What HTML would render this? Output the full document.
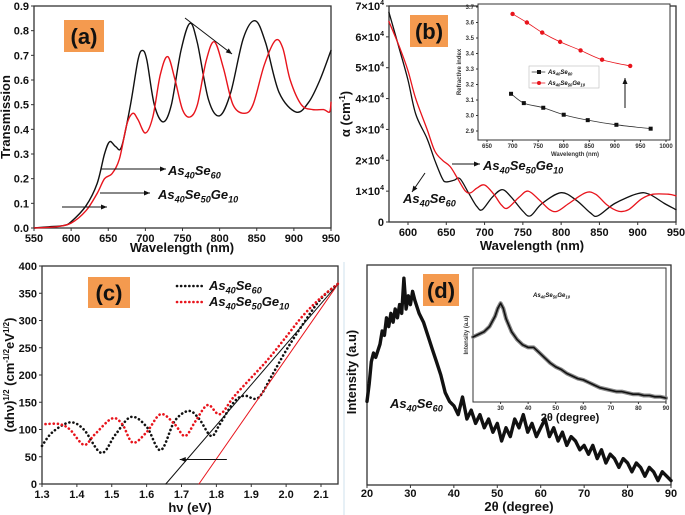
<!DOCTYPE html>
<html><head><meta charset="utf-8"><style>
html,body{margin:0;padding:0;background:#fff}
svg{display:block;font-family:"Liberation Sans",Arial,sans-serif}
.t{font-size:11px;font-weight:bold;fill:#111}
.ti{font-size:13px;font-weight:bold;fill:#111}
.lab{font-size:22px;font-weight:bold;fill:#111}
.sm{font-size:6px;font-weight:bold;fill:#333}
.bi{font-weight:bold;font-style:italic;fill:#111}
</style></head><body>
<svg id="s" width="685" height="515" viewBox="0 0 685 515" xmlns="http://www.w3.org/2000/svg">
<line x1="344" y1="262" x2="344" y2="515" stroke="#cfe0ee" stroke-width="1"/>
</svg>
<script>
// ---- data ----
const aBlackX=[550,570,590,600,620,635,645,652,660,668,680,690,696,702,712,724,735,748,760,770,785,800,815,832,848,862,880,903,920,935,950];
const aBlackY=[0,0.005,0.01,0.025,0.09,0.18,0.3,0.35,0.33,0.33,0.5,0.68,0.72,0.68,0.5,0.43,0.5,0.72,0.83,0.75,0.52,0.455,0.55,0.77,0.84,0.75,0.55,0.47,0.51,0.6,0.72];
const aRedX=[550,580,600,620,635,645,655,665,675,683,690,700,710,720,730,740,750,760,770,782,793,805,818,833,845,860,875,885,895,910,925,940,948,950];
const aRedY=[0,0.005,0.02,0.07,0.14,0.2,0.22,0.28,0.42,0.465,0.44,0.385,0.45,0.62,0.695,0.6,0.48,0.45,0.5,0.68,0.755,0.65,0.5,0.465,0.5,0.66,0.76,0.73,0.6,0.5,0.48,0.48,0.47,0.51];
const aXTicks=[550,600,650,700,750,800,850,900,950];
const aYTicks=[0,0.1,0.2,0.3,0.4,0.5,0.6,0.7,0.8,0.9];

const bBlackX=[575,590,600,610,625,635,645,650,660,668,680,690,697,710,723,735,750,760,775,800,820,838,848,870,900,915,935,950];
const bBlackY=[6.8,5.5,4.6,3.5,2.7,2.0,1.4,1.3,1.35,1.4,0.9,0.5,0.4,0.8,1.05,0.8,0.35,0.2,0.6,0.95,0.7,0.3,0.2,0.6,0.92,0.9,0.6,0.4];
const bRedX=[575,590,600,610,625,635,645,655,665,675,682,690,700,712,722,730,745,757,772,785,795,810,832,845,860,875,888,905,920,940,950];
const bRedY=[6.5,5.6,4.9,4.0,3.0,2.3,2.0,1.8,1.4,1.0,0.95,1.1,1.2,0.9,0.55,0.45,0.8,1.0,0.7,0.4,0.35,0.6,0.95,0.9,0.55,0.35,0.4,0.75,0.9,0.9,0.85];
const bXTicks=[600,650,700,750,800,850,900,950];
const bYTicks=[0,1,2,3,4,5,6,7];
const insBlackX=[697,722,760,800,847,903,970];
const insBlackY=[3.14,3.08,3.05,3.005,2.97,2.94,2.915];
const insRedX=[700,728,758,793,833,875,930];
const insRedY=[3.655,3.6,3.535,3.475,3.42,3.36,3.32];
const insXTicks=[650,700,750,800,850,900,950,1000];
const insYTicks=[2.9,3.0,3.1,3.2,3.3,3.4,3.5,3.6,3.7];

const cBlackX=[1.3,1.33,1.38,1.42,1.47,1.51,1.555,1.6,1.64,1.68,1.72,1.75,1.785,1.81,1.85,1.88,1.92,1.96,2.0,2.05,2.1,2.15];
const cBlackY=[70,95,113,100,57,90,123,105,62,115,134,120,88,110,150,162,158,200,245,295,340,368];
const cRedX=[1.31,1.35,1.38,1.42,1.45,1.5,1.53,1.56,1.6,1.64,1.68,1.71,1.74,1.775,1.81,1.85,1.9,1.95,2.0,2.05,2.1,2.15];
const cRedY=[110,110,100,72,90,120,110,76,95,128,110,88,115,145,128,160,195,230,270,310,342,368];
const cFitBlack=[1.655,0,2.15,368];
const cFitRed=[1.75,0,2.15,368];
const cXTicks=[1.3,1.4,1.5,1.6,1.7,1.8,1.9,2.0,2.1];
const cYTicks=[0,50,100,150,200,250,300,350,400];

const dX=[20,20.5,21,21.5,22,23,23.5,24,24.5,25,25.5,26,26.5,27,27.5,28,28.5,29,29.5,30,30.5,31,32,33,34,35,36,37,38,39,40,41,42,43,44,45,46,47,48,49,50,51,52,53,54,55,56,57,58,59,60,61,62,63,64,65,66,67,68,69,70,71,72,73,74,75,76,77,78,79,80,81,82,83,84,85,86,87,88,89,90];
const dY=[38,46,56,60,58,64,70,68,76,72,78,74,80,76,82,78,94,80,86,82,88,84,78,74,68,62,56,50,42,38,36,32,40,30,34,28,32,26,30,24,28,20,26,22,30,26,32,24,28,22,26,30,22,26,20,24,18,22,20,16,18,14,18,12,16,10,14,12,8,12,10,6,10,8,4,8,6,2,6,4,2];
const dXTicks=[20,30,40,50,60,70,80,90];
const dInsX=[20,22,24,26,28,29,30,31,32,34,36,38,40,42,44,46,48,50,52,54,56,58,60,62,64,66,68,70,72,74,76,78,80,82,84,86,88,90];
const dInsY=[50,52,54,58,66,72,76,72,64,54,48,44,42,42,38,34,30,27,25,22,20,18,17,15,13,11,10,9,8,8,7,6,6,5,5,4,4,3];
const dInsXTicks=[30,40,50,60,70,80,90];

// ---- helpers ----
const s=document.getElementById('s');
const NS='http://www.w3.org/2000/svg';
function mk(tag,attrs,parent){const e=document.createElementNS(NS,tag);for(const k in attrs)e.setAttribute(k,attrs[k]);(parent||s).appendChild(e);return e;}
function lin(d0,d1,r0,r1){return v=>r0+(v-d0)/(d1-d0)*(r1-r0);}
function smooth(xs,ys,X,Y){const p=xs.map((x,i)=>[X(x),Y(ys[i])]);let d='M'+p[0][0].toFixed(1)+' '+p[0][1].toFixed(1);
 for(let i=0;i<p.length-1;i++){const p0=p[i-1]||p[i],p1=p[i],p2=p[i+1],p3=p[i+2]||p2;
  const c1=[p1[0]+(p2[0]-p0[0])/6,p1[1]+(p2[1]-p0[1])/6],c2=[p2[0]-(p3[0]-p1[0])/6,p2[1]-(p3[1]-p1[1])/6];
  d+=' C'+c1[0].toFixed(1)+' '+c1[1].toFixed(1)+' '+c2[0].toFixed(1)+' '+c2[1].toFixed(1)+' '+p2[0].toFixed(1)+' '+p2[1].toFixed(1);}
 return d;}
function poly(xs,ys,X,Y){return xs.map((x,i)=>(i?'L':'M')+X(x).toFixed(1)+' '+Y(ys[i]).toFixed(1)).join(' ');}
function txt(x,y,str,cls,anchor,name){const t=mk('text',{x:x,y:y,class:cls,'text-anchor':anchor||'start'});t.textContent=str;
 
 
 return t;}
function frame(x0,y0,x1,y1,name,sw){const r=mk('rect',{x:x0,y:y0,width:x1-x0,height:y1-y0,fill:'none',stroke:'#333','stroke-width':sw||1.3});
 
 }
function badge(x,y,w,h,str,name){const r=mk('rect',{x:x,y:y,width:w,height:h,fill:'#f49a4f'});
 
 
 txt(x+w/2,y+h/2+8,str,'lab','middle',name+'-text');}
function arrow(x1,y1,x2,y2,name){const l=mk('line',{x1:x1,y1:y1,x2:x2,y2:y2,stroke:'#111','stroke-width':1});
 
 
 const a=Math.atan2(y2-y1,x2-x1),L=6,w=2.5;
 const p=[[x2,y2],[x2-L*Math.cos(a)+w*Math.sin(a),y2-L*Math.sin(a)-w*Math.cos(a)],[x2-L*Math.cos(a)-w*Math.sin(a),y2-L*Math.sin(a)+w*Math.cos(a)]];
 const h=mk('polygon',{points:p.map(q=>q.join(',')).join(' '),fill:'#111'});
 
 }
function series(d,color,w,name,dash){const p=mk('path',{d:d,fill:'none',stroke:color,'stroke-width':w,'stroke-linejoin':'round','stroke-linecap':'round'});
 if(dash)p.setAttribute('stroke-dasharray',dash);
 
 }
function xticks(ticks,X,y,fmt,cls,len,name,off){ticks.forEach(v=>{const l=mk('line',{x1:X(v),x2:X(v),y1:y,y2:y+len,stroke:'#333','stroke-width':1});
 
 
 txt(X(v),y+len+(off||(cls==='sm'?6:11)),fmt(v),cls,'middle',name+'-label');});}
function yticks(ticks,Y,x,fmt,cls,len,name){ticks.forEach(v=>{const l=mk('line',{x1:x-len,x2:x,y1:Y(v),y2:Y(v),stroke:'#333','stroke-width':1});
 
 
 txt(x-len-2,Y(v)+(cls==='sm'?2:4),fmt(v),cls,'end',name+'-label');});}
function subLabel(x,y,size,parts,name){const t=mk('text',{x:x,y:y,class:'bi','font-size':size});
 
 
 parts.forEach(([str,sub])=>{const ts=mk('tspan',sub?{'font-size':size*0.7,dy:size*0.25}:{dy:sub===false?-size*0.25:0},t);ts.textContent=str;});
 return t;}
const AS60=[['As'],['40',1],['Se',false],['60',1]];
const AS5010=[['As'],['40',1],['Se',false],['50',1],['Ge',false],['10',1]];

// ---- panel a ----
{const X=lin(550,950,34,331),Y=lin(0,0.9,228,6);
 frame(34,6,331,228,'panel-a-frame');
 series(smooth(aBlackX,aBlackY,X,Y),'#111',1.4,'a-series-as40se60');
 series(smooth(aRedX,aRedY,X,Y),'#e8141c',1.4,'a-series-as40se50ge10');
 xticks(aXTicks,X,228,v=>v,'t',3,'a-x');
 yticks(aYTicks,Y,34,v=>v.toFixed(1),'t',3,'a-y');
 txt(182,252,'Wavelength (nm)','ti','middle','a-x-axis-title');
 const yt=txt(0,0,'Transmission','ti','middle','a-y-axis-title');yt.setAttribute('transform','translate(10,117) rotate(-90)');
 badge(64,20,40,32,'(a)','a-panel-badge');
 arrow(185,18,232,54,'a-shift-arrow');
 arrow(101,169,166,169,'a-arrow-as40se60');subLabel(168,175,13,AS60,'a-label-as40se60');
 arrow(100,193,150,193,'a-arrow-as40se50ge10');subLabel(158,199,13,AS5010,'a-label-as40se50ge10');
 arrow(62,207,107,207,'a-arrow-edge');}

// ---- panel b ----
{const X=lin(600,950,408,676),Y=lin(0,7,222,6);
 frame(389,6,676,222,'panel-b-frame');
 series(smooth(bBlackX,bBlackY,X,Y),'#111',1.3,'b-series-as40se60');
 series(smooth(bRedX,bRedY,X,Y),'#e8141c',1.3,'b-series-as40se50ge10');
 xticks(bXTicks,X,222,v=>v,'t',3,'b-x');
 bYTicks.forEach(v=>{const l=mk('line',{x1:386,x2:389,y1:Y(v),y2:Y(v),stroke:'#333'});
  
  
  const t=mk('text',{x:384,y:Y(v)+4,class:'t','text-anchor':'end'});
  
  
  if(v===0){t.textContent='0';}else{const a=mk('tspan',{},t);a.textContent=v+'×10';const b=mk('tspan',{'font-size':7,dy:-5},t);b.textContent='4';}});
 txt(532,250,'Wavelength (nm)','ti','middle','b-x-axis-title');
 const yt=mk('text',{class:'ti','text-anchor':'middle',transform:'translate(350,114) rotate(-90)','font-weight':'normal'});
 
 
 const y1=mk('tspan',{},yt);y1.textContent='α (cm';const y2=mk('tspan',{'font-size':8,dy:-5},yt);y2.textContent='-1';const y3=mk('tspan',{dy:5},yt);y3.textContent=')';
 badge(410,15,38,32,'(b)','b-panel-badge');
 arrow(452,164,480,164,'b-arrow-as40se50ge10');subLabel(483,170,13,AS5010,'b-label-as40se50ge10');
 arrow(425,173,412,192,'b-arrow-as40se60');subLabel(403,203,13,AS60,'b-label-as40se60');
 // inset
 const IX=lin(650,1000,487,666),IY=lin(2.9,3.7,131,7);
 const bg=mk('rect',{x:478,y:4,width:192,height:136,fill:'#fff'});
 
 
 frame(478,4,670,140,'b-inset-frame',1);
 series(smooth(insBlackX,insBlackY,IX,IY),'#333',0.8,'b-inset-line-as40se60');
 series(smooth(insRedX,insRedY,IX,IY),'#e8141c',0.8,'b-inset-line-as40se50ge10');
 insBlackX.forEach((x,i)=>{const r=mk('rect',{x:IX(x)-2,y:IY(insBlackY[i])-2,width:4,height:4,fill:'#111'});
  
  });
 insRedX.forEach((x,i)=>{const c=mk('circle',{cx:IX(x),cy:IY(insRedY[i]),r:2.2,fill:'#e8141c'});
  
  });
 xticks(insXTicks,IX,140,v=>v,'sm',2,'b-inset-x');
 yticks(insYTicks,IY,478,v=>v.toFixed(1),'sm',2,'b-inset-y');
 txt(575,156,'Wavelength (nm)','sm','middle','b-inset-x-title');
 const it=txt(0,0,'Refractive index','sm','middle','b-inset-y-title');it.setAttribute('transform','translate(461,72) rotate(-90)');
 const lg=mk('rect',{x:529,y:66,width:70,height:22,fill:'#fff',stroke:'#bbb','stroke-width':0.6});
 
 
 series('M532 72 L545 72','#333',0.8,'b-inset-legend-line-black');
 const lr=mk('rect',{x:537,y:70,width:4,height:4,fill:'#111'});
 series('M532 83 L545 83','#e8141c',0.8,'b-inset-legend-line-red');
 const lc=mk('circle',{cx:539,cy:83,r:2,fill:'#e8141c'});
 subLabel(548,74,6,AS60,'b-inset-legend-as40se60');subLabel(548,85,6,AS5010,'b-inset-legend-as40se50ge10');
 arrow(625,108,625,78,'b-inset-arrow');}

// ---- panel c ----
{const X=lin(1.3,2.1,42,321),Y=lin(0,400,484,266);
 frame(42,266,338,484,'panel-c-frame');
 series(smooth(cBlackX,cBlackY,X,Y),'#111',2.6,'c-series-as40se60','0.1 4');
 series(smooth(cRedX,cRedY,X,Y),'#e8141c',2.6,'c-series-as40se50ge10','0.1 4');
 series('M'+X(cFitBlack[0])+' '+Y(cFitBlack[1])+' L'+X(cFitBlack[2])+' '+Y(cFitBlack[3]),'#111',1,'c-fit-as40se60');
 series('M'+X(cFitRed[0])+' '+Y(cFitRed[1])+' L'+X(cFitRed[2])+' '+Y(cFitRed[3]),'#e8141c',1,'c-fit-as40se50ge10');
 xticks(cXTicks,X,484,v=>v.toFixed(1),'t',3,'c-x');
 yticks(cYTicks,Y,42,v=>v,'t',3,'c-y');
 txt(190,512,'hν (eV)','ti','middle','c-x-axis-title');
 const yt=mk('text',{class:'ti','text-anchor':'middle',transform:'translate(14,375) rotate(-90)','font-size':12});
 
 
 [['(αhν)',0],['1/2',1],[' (cm',2],['-1/2',1],['eV',2],['1/2',1],[')',2]].forEach(([str,k])=>{const ts=mk('tspan',k===1?{'font-size':8,dy:-5}:(k===2?{dy:5}:{}),yt);ts.textContent=str;});
 badge(88,277,42,31,'(c)','c-panel-badge');
 series('M177 286 L202 286','#111',2.6,'c-legend-line-black','0.1 4');
 series('M177 302 L202 302','#e8141c',2.6,'c-legend-line-red','0.1 4');
 subLabel(209,290,13,AS60,'c-legend-as40se60');subLabel(209,306,13,AS5010,'c-legend-as40se50ge10');
 arrow(X(1.83),Y(45),X(1.695),Y(45),'c-arrow');}

// ---- panel d ----
{const X=lin(20,90,367,671),Y=lin(0,100,485,265);
 frame(367,265,671,485,'panel-d-frame');
 series(poly(dX,dY,X,Y),'#111',3.4,'d-series-as40se60');
 xticks(dXTicks,X,485,v=>v,'t',3,'d-x',9);
 txt(519,511,'2θ (degree)','ti','middle','d-x-axis-title');
 const yt=txt(0,0,'Intensity (a.u)','ti','middle','d-y-axis-title');yt.setAttribute('transform','translate(356,372) rotate(-90)');
 badge(423,274,36,32,'(d)','d-panel-badge');
 subLabel(390,408,13,AS60,'d-label-as40se60');
 const IX=lin(20,90,473,666),IY=lin(0,100,402,272);
 const bg=mk('rect',{x:473,y:268,width:193,height:134,fill:'#fff'});
 
 
 frame(473,268,666,402,'d-inset-frame',1);
 series(poly(dInsX,dInsY,IX,IY),'#888',4,'d-inset-noise-band');
 series(poly(dInsX,dInsY,IX,IY),'#111',1.6,'d-inset-series');
 xticks(dInsXTicks,IX,402,v=>v,'sm',2,'d-inset-x');
 txt(570,421,'2θ (degree)','t','middle','d-inset-x-title').setAttribute('font-size','7');
 const it=txt(0,0,'Intensity (a.u)','sm','middle','d-inset-y-title');it.setAttribute('transform','translate(468,335) rotate(-90)');
 subLabel(533,297,6,AS5010,'d-inset-label');}
</script>
</body></html>
